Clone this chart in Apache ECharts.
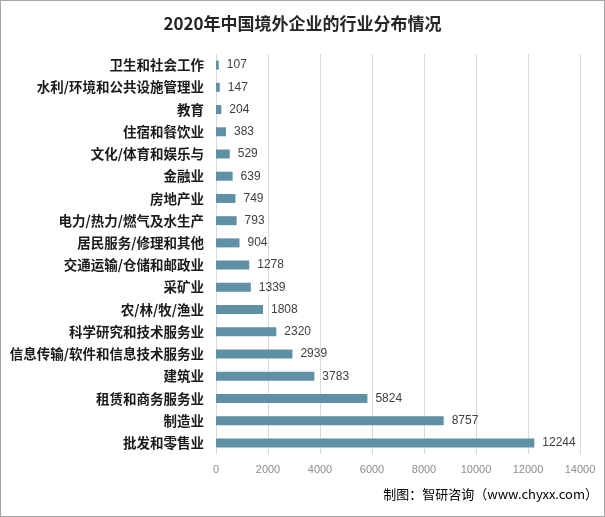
<!DOCTYPE html>
<html>
<head>
<meta charset="utf-8">
<script src="https://cdn.jsdelivr.net/npm/echarts@6/dist/echarts.min.js"></script>
<style>
  html, body { margin: 0; padding: 0; background: #fff; }
  #chart { width: 603px; height: 515px; border: 1px solid #a6a6a6; }
</style>
</head>
<body>
<div id="chart"></div>
<script>
// 行业（自下而上）
const categories = ['批发和零售业', '制造业', '租赁和商务服务业', '建筑业', '信息传输/软件和信息技术服务业',
  '科学研究和技术服务业', '农/林/牧/渔业', '采矿业', '交通运输/仓储和邮政业', '居民服务/修理和其他',
  '电力/热力/燃气及水生产', '房地产业', '金融业', '文化/体育和娱乐与', '住宿和餐饮业', '教育',
  '水利/环境和公共设施管理业', '卫生和社会工作']
const values = [12244, 8757, 5824, 3783, 2939, 2320, 1808, 1339, 1278, 904, 793, 749, 639, 529, 383, 204, 147, 107]
const xTicks = [0, 2000, 4000, 6000, 8000, 10000, 12000, 14000]

const chart = echarts.init(document.getElementById('chart'))
const option = {
  backgroundColor: '#fff',
  animation: false,
  title: {
    text: '2020年中国境外企业的行业分布情况',
    left: 'center',
    top: 9,
    textStyle: { fontSize: 17, fontWeight: 'bold', color: '#262626', fontFamily: 'Noto Sans CJK SC' }
  },
  graphic: [{
    type: 'text',
    right: 6,
    top: 487,
    style: { text: '制图：智研咨询（www.chyxx.com）', fontSize: 13, fill: '#000', fontFamily: 'Noto Sans CJK SC' }
  }],
  grid: { left: 215, right: 24, top: 53, bottom: 62 },
  xAxis: {
    type: 'value',
    min: xTicks[0],
    max: xTicks[xTicks.length - 1],
    interval: 2000,
    axisLine: { show: false },
    axisTick: { show: false },
    axisLabel: { color: '#8c8c8c', fontSize: 11, margin: 10, formatter: v => String(v) },
    splitLine: { lineStyle: { color: '#d9d9d9' } }
  },
  yAxis: {
    type: 'category',
    data: categories,
    axisLine: { lineStyle: { color: '#d9d9d9' } },
    axisTick: { show: false },
    axisLabel: { color: '#1a1a1a', fontSize: 13.5, fontWeight: 'bold', margin: 12, fontFamily: 'Noto Sans CJK SC' }
  },
  series: [{
    type: 'bar',
    data: values,
    barWidth: 9,
    itemStyle: { color: '#5e90a6' },
    label: { show: true, position: 'right', distance: 8, color: '#404040', fontSize: 12 }
  }]
}
chart.setOption(option)
</script>
</body>
</html>
